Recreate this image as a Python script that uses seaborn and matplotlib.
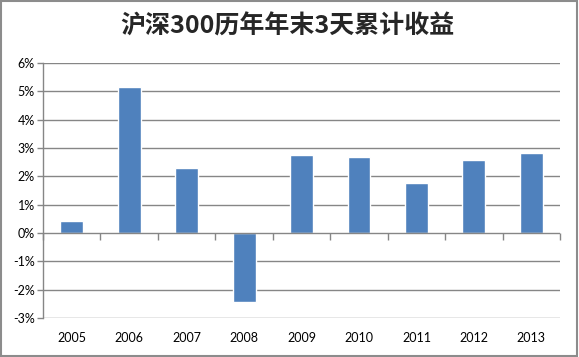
import matplotlib
matplotlib.use("Agg")
import matplotlib.pyplot as plt
import seaborn as sns
import pandas as pd
from matplotlib.ticker import FuncFormatter, FixedLocator
from matplotlib.patches import Rectangle

years = ["2005", "2006", "2007", "2008", "2009", "2010", "2011", "2012", "2013"]
returns = [0.44, 5.16, 2.31, -2.45, 2.76, 2.69, 1.78, 2.59, 2.84]
yticks = [-3, -2, -1, 0, 1, 2, 3, 4, 5, 6]
title = "沪深300历年年末3天累计收益"

sns.set_theme(style="white")
plt.rcParams['font.family'] = ['Lato', 'DejaVu Sans']

df = pd.DataFrame({"year": years, "ret": returns})

fig = plt.figure(figsize=(5.79, 3.57), dpi=100)
ax = fig.add_axes([0.0743, 0.109, 0.893, 0.7145])

sns.barplot(data=df, x="year", y="ret", color="#4F81BD", saturation=1,
            width=0.4, ax=ax)

grid_c = "#868686"
ax.set_ylim(-3, 6)
ax.set_xlim(-0.5, len(years) - 0.5)
ax.set_yticks(yticks)
ax.yaxis.set_major_formatter(FuncFormatter(lambda v, p: f"{int(v)}%"))
for v in yticks:
    if v != 0:
        ax.axhline(v, color=grid_c, lw=1, zorder=0)
ax.axhline(0, color=grid_c, lw=1, zorder=3)

for s in ["top", "right", "bottom"]:
    ax.spines[s].set_visible(False)
ax.spines["left"].set_color(grid_c)
ax.spines["left"].set_linewidth(1)

ax.tick_params(axis="y", direction="out", length=4, width=1, color=grid_c,
               labelsize=9, labelcolor="#000000", pad=2, left=True)
ax.tick_params(axis="x", length=0, labelsize=9, labelcolor="#000000", pad=10)
ax.set_xlabel("")
ax.set_ylabel("")

# category boundary ticks on the zero line
sec = ax.secondary_xaxis(3 / 9)
sec.xaxis.set_major_locator(FixedLocator([i - 0.5 for i in range(len(years) + 1)]))
sec.tick_params(axis="x", direction="out", length=5, width=1, color=grid_c,
                labelbottom=False, labeltop=False, bottom=True)
sec.spines["bottom"].set_visible(False)
sec.spines["top"].set_visible(False)

fig.text(0.496, 0.925, title, ha="center", va="center", fontsize=18,
         fontweight="bold", family=['Noto Sans CJK SC', 'DejaVu Sans'])

fig.patches.append(Rectangle((0.002, 0.003), 0.994, 0.994, transform=fig.transFigure,
                             fill=False, edgecolor="#8c8c8c", lw=1.5))

fig.savefig("out.png", dpi=100)
